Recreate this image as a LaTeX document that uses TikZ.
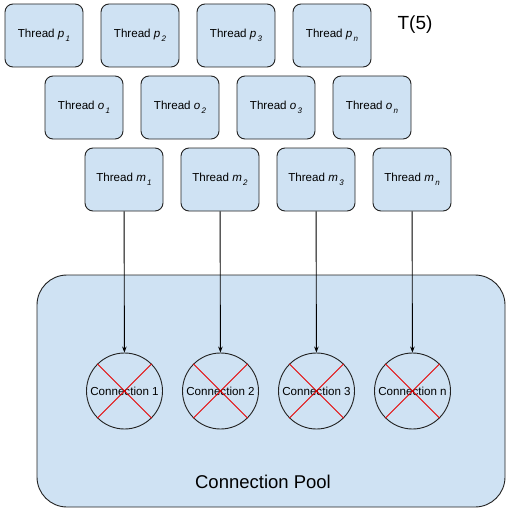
\documentclass[tikz,border=0pt]{standalone}
\usepackage{fontspec}
\setmainfont{Liberation Sans}
\usetikzlibrary{arrows.meta}
\definecolor{poolblue}{HTML}{CFE2F3}
\definecolor{edgegray}{HTML}{222222}
\newcommand{\thr}[2]{Thread \textit{#1}\kern1.3pt\raisebox{-3.5pt}{\fontsize{8}{8}\selectfont\textit{#2}}}
\tikzset{
    thread/.style={draw=edgegray, fill=poolblue, line width=0.9pt, rounded corners=8pt,
        minimum width=78pt, minimum height=63pt, font=\fontsize{11.6}{13}\selectfont},
    conn/.style={circle, draw=edgegray, line width=0.9pt, minimum size=76pt, inner sep=0pt,
        font=\fontsize{11.6}{13}\selectfont},
    cross/.style={draw=red!90!black, line width=0.8pt},
    link/.style={-{Stealth[length=6pt,width=4.5pt]}, line width=0.9pt}
}
\begin{document}
\begin{tikzpicture}[x=1pt, y=-1pt]
    \useasboundingbox (0,0) rectangle (515,516);

    % 连接池
    \draw[draw=edgegray, fill=poolblue, line width=0.9pt, rounded corners=30pt]
        (37,275) rectangle (505,507);
    \node[font=\fontsize{18.5}{20}\selectfont] (pool) at (263,482) {Connection Pool};

    % 线程 p
    \node[thread] (p1) at (44,35.5) {\thr{p}{1}};
    \node[thread] (p2) at (140,35.5) {\thr{p}{2}};
    \node[thread] (p3) at (236,35.5) {\thr{p}{3}};
    \node[thread] (pn) at (332,35.5) {\thr{p}{n}};
    \node[font=\fontsize{19}{21}\selectfont] (t5) at (415,25) {T(5)};

    % 线程 o
    \node[thread] (o1) at (84,107.5) {\thr{o}{1}};
    \node[thread] (o2) at (180,107.5) {\thr{o}{2}};
    \node[thread] (o3) at (276,107.5) {\thr{o}{3}};
    \node[thread] (on) at (372,107.5) {\thr{o}{n}};

    % 线程 m
    \node[thread] (m1) at (124,179.5) {\thr{m}{1}};
    \node[thread] (m2) at (220,179.5) {\thr{m}{2}};
    \node[thread] (m3) at (316,179.5) {\thr{m}{3}};
    \node[thread] (mn) at (412,179.5) {\thr{m}{n}};

    % 连接
    \node[conn] (c1) at (124.5,391) {Connection 1};
    \node[conn] (c2) at (220.5,391) {Connection 2};
    \node[conn] (c3) at (316.5,391) {Connection 3};
    \node[conn] (cn) at (412.5,391) {Connection n};

    % 红叉
    \draw[cross] (c1.45) -- (c1.225) (c1.135) -- (c1.315);
    \draw[cross] (c2.45) -- (c2.225) (c2.135) -- (c2.315);
    \draw[cross] (c3.45) -- (c3.225) (c3.135) -- (c3.315);
    \draw[cross] (cn.45) -- (cn.225) (cn.135) -- (cn.315);

    % 箭头
    \draw[link] (m1) -- (c1);
    \draw[link] (m2) -- (c2);
    \draw[link] (m3) -- (c3);
    \draw[link] (mn) -- (cn);
\end{tikzpicture}
\end{document}
